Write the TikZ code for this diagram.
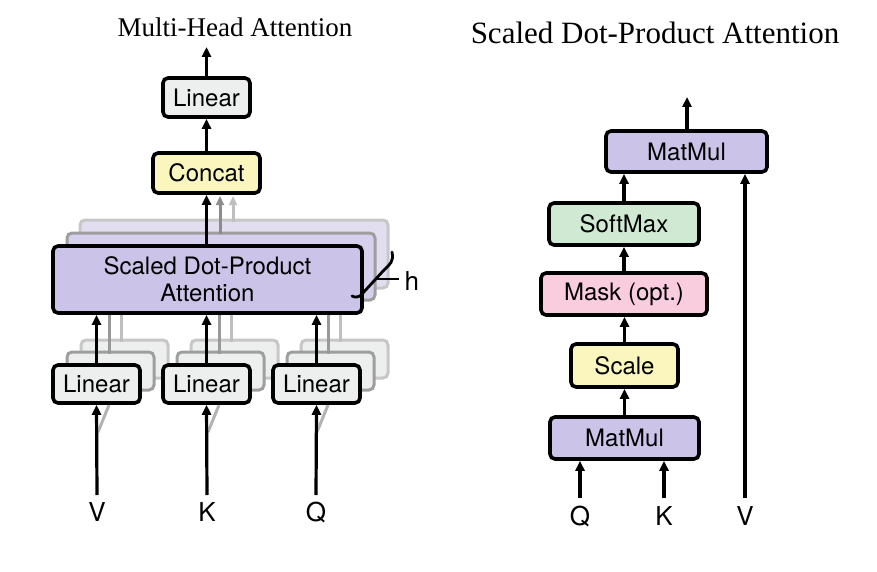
\documentclass[tikz,border=0pt]{standalone}
\usepackage{fontspec}
\setmainfont{TeX Gyre Heros}
\newfontfamily\ser{Liberation Serif}
\usetikzlibrary{arrows.meta}
\definecolor{purp}{RGB}{203,196,232}
\definecolor{purpA}{RGB}{226,222,240}
\definecolor{purpB}{RGB}{214,208,236}
\definecolor{lgry}{RGB}{236,239,237}
\definecolor{yel}{RGB}{250,246,190}
\definecolor{grn}{RGB}{207,233,210}
\definecolor{pnk}{RGB}{249,204,222}
\begin{document}
\begin{tikzpicture}[x=1pt,y=-1pt,
  box/.style={draw=black,line width=3.6pt,rounded corners=5pt,inner sep=0pt,font=\fontsize{24}{27}\selectfont,align=center},
  ghost/.style={line width=3pt,rounded corners=5pt,inner sep=0pt},
  arr/.style={line width=3.2pt,-{Triangle[length=10pt,width=9pt]}},
  garr/.style={line width=3pt,draw=black!45,-{Triangle[length=9pt,width=8pt]}},
  lbl/.style={font=\fontsize{26}{28}\selectfont}]
\useasboundingbox (0,0) rectangle (877,572);
% titles
\node[font=\ser\fontsize{27}{30}\selectfont] (t1) at (235,27) {Multi-Head Attention};
\node[font=\ser\fontsize{31}{34}\selectfont] (t2) at (655,33) {Scaled Dot-Product Attention};
% ---------- left ----------
\draw[ghost,fill=purpA,draw=black!22] (80,220) rectangle (388,288);
\draw[ghost,fill=purpB,draw=black!38] (67,233) rectangle (375,300);
\foreach \x in {53,163,273}{
  \draw[ghost,fill=lgry,draw=black!22] (\x+28,340) rectangle (\x+115,378);
  \draw[ghost,fill=lgry,draw=black!38] (\x+14,352) rectangle (\x+101,390);
}
\foreach \x in {97,207,316}{
  \draw[line width=3pt,black!25] (\x+24,342) -- (\x+24,290);
  \draw[line width=3pt,black!40] (\x+12,354) -- (\x+12,300);
  \draw[line width=3pt,black!30] (\x+1,432) -- (\x+12,405);
}
\draw[garr,black!25] (233,222) -- (233,196);
\draw[garr] (220,234) -- (220,196);
% front boxes
\node[box,fill=purp,minimum width=309pt,minimum height=67pt] (sdpa) at (207.5,279.5) {Scaled Dot-Product\\Attention};
\node[box,fill=lgry,minimum width=87pt,minimum height=38pt] (l1) at (96.5,384) {Linear};
\node[box,fill=lgry,minimum width=87pt,minimum height=38pt] (l2) at (206.5,384) {Linear};
\node[box,fill=lgry,minimum width=87pt,minimum height=38pt] (l3) at (316.5,384) {Linear};
\node[box,fill=yel,minimum width=107pt,minimum height=40pt] (cc) at (206.5,173) {Concat};
\node[box,fill=lgry,minimum width=87pt,minimum height=39pt] (lo) at (206.5,97.5) {Linear};
\coordinate (out1) at (206.5,47);
\node[lbl] (V) at (97,512) {V};
\node[lbl] (K) at (207,512) {K};
\node[lbl] (Q) at (316,512) {Q};
\foreach \a/\b in {V/l1,K/l2,Q/l3}{\draw[arr] (\a.north|-0,495) -- (\b.south);}
\foreach \b in {l1,l2,l3}{\draw[arr] (\b.north) -- (\b.north|-sdpa.south);}
\draw[arr] (sdpa.north-|cc.south) -- (cc.south);
\draw[arr] (cc.north) -- (lo.south);
\draw[arr] (lo.north) -- (out1);
% brace and h
\draw[line width=2.8pt,line cap=round] (392,252) .. controls (394,262) and (390,264) .. (384,270) -- (362,294) .. controls (360,297) and (355,298) .. (352,296);
\draw[line width=2pt] (375,279) -- (399,279);
\node[lbl,anchor=west] (h) at (401,281) {h};
% ---------- right ----------
\node[box,fill=purp,minimum width=161pt,minimum height=41pt] (mm2) at (686.5,151.5) {MatMul};
\node[box,fill=grn,minimum width=150pt,minimum height=42pt] (sm) at (624,224) {SoftMax};
\node[box,fill=pnk,minimum width=166pt,minimum height=42pt] (mk) at (624,294) {Mask (opt.)};
\node[box,fill=yel,minimum width=107pt,minimum height=43pt] (sc) at (624.5,365.5) {Scale};
\node[box,fill=purp,minimum width=149pt,minimum height=42pt] (mm1) at (624.5,438) {MatMul};
\node[lbl] (Q2) at (580,516) {Q};
\node[lbl] (K2) at (664,516) {K};
\node[lbl] (V2) at (745,516) {V};
\coordinate (out2) at (687,97);
\draw[arr] (Q2.north|-0,498) -- (Q2.north|-mm1.south);
\draw[arr] (K2.north|-0,498) -- (K2.north|-mm1.south);
\draw[arr] (V2.north|-0,498) -- (V2.north|-mm2.south);
\draw[arr] (mm1.north) -- (mm1.north|-sc.south);
\draw[arr] (sc.north) -- (sc.north|-mk.south);
\draw[arr] (mk.north) -- (mk.north|-sm.south);
\draw[arr] (sm.north) -- (sm.north|-mm2.south);
\draw[arr] (mm2.north-|out2) -- (out2);
\end{tikzpicture}
\end{document}
